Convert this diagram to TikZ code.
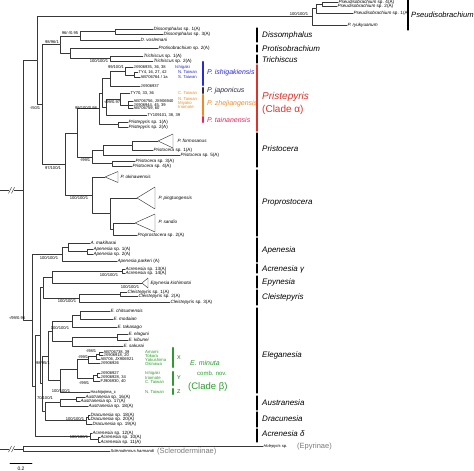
\documentclass[tikz,border=0pt]{standalone}
\usepackage{fontspec}
\setmainfont{Liberation Sans}
\usetikzlibrary{calc}
\definecolor{isblue}{HTML}{2A2AD2}
\definecolor{jpnavy}{HTML}{2A2A45}
\definecolor{zhorange}{HTML}{F08A24}
\definecolor{tapink}{HTML}{E3265A}
\definecolor{prred}{HTML}{D8352C}
\definecolor{clgreen}{HTML}{2F9A2F}
\definecolor{ogray}{HTML}{7A7A7A}

\begin{document}
\begin{tikzpicture}[x=1pt, y=-1pt, line width=0.45pt, line cap=round, line join=round,
  br/.style={draw=black!78, line width=0.45pt},
  tip/.style={anchor=west, inner sep=0.3pt, font=\fontsize{4.6}{5}\selectfont},
  acc/.style={tip, font=\fontsize{4.1}{5}\selectfont},
  supp/.style={inner sep=0pt, font=\fontsize{4.1}{5}\selectfont},
  genus/.style={anchor=west, inner sep=0pt, font=\fontsize{8}{9.6}\selectfont\itshape},
  gbar/.style={line width=1.3pt},
  sbar/.style={line width=2.6pt},
  place/.style={anchor=west, inner sep=0pt, font=\fontsize{4.3}{5}\selectfont}]

  \useasboundingbox (0,0) rectangle (474,471);

  %% ════ internal nodes ════
  \coordinate (nR)   at (23,190.3);
  \coordinate (nA)   at (37,60.5);
  \coordinate (nP)   at (312,16.7);
  \coordinate (nP1)  at (316,8.5);
  \coordinate (nP2)  at (322,3.9);
  \coordinate (nB)   at (42,104.3);
  \coordinate (nC)   at (60,44.5);
  \coordinate (nE)   at (80,35.8);
  \coordinate (nE1)  at (115,31.5);
  \coordinate (nF)   at (70,53.3);
  \coordinate (nG)   at (110,58.5);
  \coordinate (nD)   at (65,164);
  \coordinate (nH)   at (77,132.8);
  \coordinate (nI)   at (99,108.7);
  \coordinate (nI1)  at (102,92.9);
  \coordinate (nJ)   at (110,78.7);
  \coordinate (nJi)  at (125,70.9);
  \coordinate (nJi2) at (134,74.8);
  \coordinate (nZ)   at (106,107);
  \coordinate (nZz)  at (120,99);
  \coordinate (nZz2) at (128,105);
  \coordinate (nIsp) at (118,124.5);
  \coordinate (nK)   at (92,156.9);
  \coordinate (nK1)  at (103,150.3);
  \coordinate (nK2)  at (132,145.5);
  \coordinate (nK3)  at (112,163.5);
  \coordinate (nPP)  at (92,195.3);
  \coordinate (nPP1) at (110,213.5);
  \coordinate (nPP2) at (113,229);
  \coordinate (nL0)  at (32,320);
  \coordinate (nL1)  at (35,385.9);
  \coordinate (nL2)  at (40,335.6);
  \coordinate (nL3)  at (42,383.7);
  \coordinate (nL4)  at (45,411.5);
  \coordinate (nAp)  at (62,254.1);
  \coordinate (nAp1) at (68,247.3);
  \coordinate (nAp2) at (87,251.5);
  \coordinate (nAEC) at (43,287.5);
  \coordinate (nAE)  at (52,277);
  \coordinate (nAG)  at (122,271);
  \coordinate (nCl)  at (79,298);
  \coordinate (nCl1) at (120,294);
  \coordinate (nEl)  at (48,355.8);
  \coordinate (nEl5) at (52,331.3);
  \coordinate (nEl2) at (72,321);
  \coordinate (nEl1) at (80,315);
  \coordinate (nEl4) at (72,341.5);
  \coordinate (nEl3) at (117,337);
  \coordinate (nMi)  at (60,380.4);
  \coordinate (nXY)  at (77,368.9);
  \coordinate (nXc)  at (88,359.7);
  \coordinate (nXb)  at (96,356.4);
  \coordinate (nXa)  at (99,353.8);
  \coordinate (nY)   at (93,378);
  \coordinate (nYa)  at (97,375);
  \coordinate (nAu)  at (60,402.5);
  \coordinate (nAu1) at (76,399);
  \coordinate (nDr)  at (86,420.5);
  \coordinate (nDr1) at (88,417);
  \coordinate (nAd)  at (90,436.3);
  \coordinate (nAd1) at (98,439.5);
  \coordinate (nOg)  at (23,449);
  \coordinate (rIn)  at (0,190.3);
  \coordinate (rOut) at (0,449);

  %% ════ collapsed clades (triangles) ════
  \coordinate (cForm) at (158,141);
  \coordinate (cOki)  at (105,177);
  \coordinate (cPing) at (137,198);
  \coordinate (cSand) at (135,223);
  \coordinate (cEpy)  at (142,283);
  \draw[br] (cForm) -- (173,134) -- (173,148) -- cycle;
  \draw[br] (cOki)  -- (118,171.5) -- (118,182.5) -- cycle;
  \draw[br] (cPing) -- (155,187) -- (155,209) -- cycle;
  \draw[br] (cSand) -- (155,214) -- (155,232) -- cycle;
  \draw[br] (cEpy)  -- (148,278) -- (148,288) -- cycle;

  %% ════ tips ════
  \node[tip] (tPs4) at (338,1.9) {\textit{Pseudisobrachium} sp. 4(A)};
  \node[tip] (tPs2) at (337,6) {\textit{Pseudisobrachium} sp. 2(A)};
  \node[tip] (tPs1) at (353,13) {\textit{Pseudisobrachium} sp. 1(A)};
  \node[tip] (tPry) at (347,25) {\textit{P. ryukyuanum}};
  \node[tip] (tDi1) at (153,29) {\textit{Dissomphalus} sp. 1(A)};
  \node[tip] (tDi3) at (163,34) {\textit{Dissomphalus} sp. 3(A)};
  \node[tip] (tDvo) at (140,40) {\textit{D. voslemani}};
  \node[tip] (tPr2) at (158,48) {\textit{Protisobrachium} sp. 2(A)};
  \node[tip] (tTr1) at (143,56) {\textit{Trichiscus} sp. 1(A)};
  \node[tip] (tTr2) at (153,61) {\textit{Trichiscus} sp. 2(A)};
  \node[acc] (tIs1) at (133,67) {JX906935, 36, 38};
  \node[acc] (tIs2) at (138,72.5) {TY4, 16, 27, 42};
  \node[acc] (tIs3) at (140,77) {AB706764 / 1a};
  \node[acc] (tJap) at (140,86.5) {JX906937};
  \node[acc] (tZh1) at (130,93) {TY70, 33, 36};
  \node[acc] (tZh2) at (133,101.5) {AB706756, JX906940};
  \node[acc] (tZh3) at (133,105) {JX906944, 45, 39};
  \node[acc] (tZh4) at (133,108.5) {AB706759, 60};
  \node[acc] (tTai) at (147,115) {TY109101, 38, 39};
  \node[tip] (tPy1) at (128,122) {\textit{Pristepyris} sp. 1(A)};
  \node[tip] (tPy2) at (128,127) {\textit{Pristepyris} sp. 2(A)};
  \node[tip] at (177,141) {\textit{P. formosanus}};
  \node[tip] (tPc1) at (153,150) {\textit{Pristocera} sp. 1(A)};
  \node[tip] (tPc5) at (180,155) {\textit{Pristocera} sp. 5(A)};
  \node[tip] (tPc3) at (135,161) {\textit{Pristocera} sp. 3(A)};
  \node[tip] (tPc4) at (132,166) {\textit{Pristocera} sp. 4(A)};
  \node[tip] at (120,177) {\textit{P. okinawensis}};
  \node[tip] at (158,198) {\textit{P. pingtungensis}};
  \node[tip] at (158,222) {\textit{P. sandio}};
  \node[tip] (tPp2) at (137,235) {\textit{Proprostocera} sp. 2(A)};
  \node[tip] (tAmk) at (90,243) {\textit{A. makiharai}};
  \node[tip] (tAp1) at (93,249) {\textit{Apenesia} sp. 1(A)};
  \node[tip] (tAp2) at (93,254) {\textit{Apenesia} sp. 2(A)};
  \node[tip] (tApk) at (117,261) {\textit{Apenesia parkeri} (A)};
  \node[tip] (tAc13) at (125,269) {\textit{Acrenesia} sp. 13(A)};
  \node[tip] (tAc14) at (125,273) {\textit{Acrenesia} sp. 14(A)};
  \node[tip] at (150,283) {\textit{Epynesia kishimotoi}};
  \node[tip] (tCl1) at (127,292) {\textit{Cleistepyris} sp. 1(A)};
  \node[tip] (tCl2) at (138,296) {\textit{Cleistepyris} sp. 2(A)};
  \node[tip] (tCl3) at (170,302) {\textit{Cleistepyris} sp. 3(A)};
  \node[tip] (tEch) at (110,311) {\textit{E. chitsumensis}};
  \node[tip] (tEmo) at (113,319) {\textit{E. modaian}};
  \node[tip] (tEta) at (117,327) {\textit{E. takasago}};
  \node[tip] (tEel) at (128,334) {\textit{E. elaguni}};
  \node[tip] (tEki) at (128,340) {\textit{E. kibunei}};
  \node[tip] (tEsa) at (123,346) {\textit{E. sakurai}};
  \node[acc] (tX1) at (103,352) {AB706738, 39};
  \node[acc] (tX2) at (103,355.5) {JX906918, 20};
  \node[acc] (tX3) at (100,359) {AB706, JX906921};
  \node[acc] (tX4) at (100,363) {JX906926};
  \node[acc] (tY1) at (100,373) {JX906927};
  \node[acc] (tY2) at (100,377) {JX906928, 34};
  \node[acc] (tY3) at (100,381) {FJ906930, 40};
  \node[acc] (tHa) at (90,392) {Hachijojima\_c};
  \node[tip] (tAu16) at (85,397) {\textit{Austranesia} sp. 16(A)};
  \node[tip] (tAu17) at (80,401) {\textit{Austranesia} sp. 17(A)};
  \node[tip] (tAu18) at (88,406) {\textit{Austranesia} sp. 18(A)};
  \node[tip] (tDr18) at (90,415) {\textit{Dracunesia} sp. 18(A)};
  \node[tip] (tDr20) at (90,419) {\textit{Dracunesia} sp. 20(A)};
  \node[tip] (tDr19) at (92,424) {\textit{Dracunesia} sp. 19(A)};
  \node[tip] (tAc12) at (92,433) {\textit{Acrenesia} sp. 12(A)};
  \node[tip] (tAc10) at (100,437) {\textit{Acrenesia} sp. 10(A)};
  \node[tip] (tAc11) at (100,442) {\textit{Acrenesia} sp. 11(A)};
  \node[acc] (tEpr) at (263,446.5) {\textit{Holepyris} sp.};
  \node[acc] (tScl) at (110,451.5) {\textit{Sclerodermus harmandi}};

  %% ════ branches ════
  \foreach \p/\c in {nR/nA, nR/nL0, nA/nP, nA/nB, nP/nP1, nP/tPry, nP1/nP2, nP1/tPs1,
      nP2/tPs4, nP2/tPs2, nB/nC, nB/nD, nC/nE, nC/nF, nE/nE1, nE/tDvo, nE1/tDi1, nE1/tDi3,
      nF/tPr2, nF/nG, nG/tTr1, nG/tTr2, nD/nH, nD/nPP, nH/nI, nH/nK, nI/nI1, nI/nIsp,
      nI1/nJ, nI1/nZ, nJ/nJi, nJ/tJap, nJi/tIs1, nJi/nJi2, nJi2/tIs2, nJi2/tIs3,
      nZ/nZz, nZ/tTai, nZz/tZh1, nZz/nZz2, nZz2/tZh2, nZz2/tZh3, nZz2/tZh4,
      nIsp/tPy1, nIsp/tPy2, nK/nK1, nK/nK3, nK1/nK2, nK1/tPc5, nK2/cForm, nK2/tPc1,
      nK3/tPc3, nK3/tPc4, nPP/cOki, nPP/nPP1, nPP1/cPing, nPP1/nPP2, nPP2/cSand, nPP2/tPp2,
      nL0/nAp, nL0/nL1, nAp/nAp1, nAp/tApk, nAp1/tAmk, nAp1/nAp2, nAp2/tAp1, nAp2/tAp2,
      nL1/nL2, nL1/nAd, nL2/nAEC, nL2/nL3, nAEC/nAE, nAEC/nCl, nAE/nAG, nAE/cEpy,
      nAG/tAc13, nAG/tAc14, nCl/nCl1, nCl/tCl3, nCl1/tCl1, nCl1/tCl2,
      nL3/nEl, nL3/nL4, nEl/nEl5, nEl/nMi, nEl5/nEl2, nEl5/nEl4, nEl2/nEl1, nEl2/tEta,
      nEl1/tEch, nEl1/tEmo, nEl4/nEl3, nEl4/tEsa, nEl3/tEel, nEl3/tEki,
      nMi/nXY, nMi/tHa, nXY/nXc, nXY/nY, nXc/nXb, nXc/tX4, nXb/nXa, nXb/tX3, nXa/tX1, nXa/tX2,
      nY/nYa, nY/tY3, nYa/tY1, nYa/tY2, nL4/nAu, nL4/nDr, nAu/nAu1, nAu/tAu18,
      nAu1/tAu16, nAu1/tAu17, nDr/nDr1, nDr/tDr19, nDr1/tDr18, nDr1/tDr20,
      nAd/tAc12, nAd/nAd1, nAd1/tAc10, nAd1/tAc11, nOg/tEpr, nOg/tScl}
    \draw[br] (\p) |- (\c);
  \draw[br] (rIn) -- (nR);
  \draw[br] (rOut) -- (nOg);

  % root breaks
  \foreach \yy in {190.3,449} {
    \fill[white] (9,\yy-3) rectangle (14,\yy+3);
    \draw[br] (8.5,\yy+3) .. controls (11,\yy+1) and (9,\yy-1) .. (11.5,\yy-3);
    \draw[br] (11.5,\yy+3) .. controls (14,\yy+1) and (12,\yy-1) .. (14.5,\yy-3);
  }

  %% ════ support values ════
  \node[supp] at (299,14)    {100/100/1};
  \node[supp] at (70,33)     {96/-/0.95};
  \node[supp] at (52,42)     {98/96/1};
  \node[supp] at (99,61)     {100/100/1};
  \node[supp] at (35,108)    {-/50/1};
  \node[supp] at (116,67.5)  {99/100/1};
  \node[supp] at (112,102.5) {-/99/0.97};
  \node[supp] at (86,108)    {99/100/0.98};
  \node[supp] at (85,160)    {-/99/1};
  \node[supp] at (53,168)    {97/100/1};
  \node[supp] at (79,198)    {100/100/1};
  \node[supp] at (17,318)    {-/99/0.96};
  \node[supp] at (49,258)    {100/100/1};
  \node[supp] at (109,275)   {100/100/1};
  \node[supp] at (130,287)   {100/100/1};
  \node[supp] at (67,301)    {100/100/1};
  \node[supp] at (60,328)    {100/100/1};
  \node[supp] at (91,351)    {-/98/1};
  \node[supp] at (83,357)    {-/99/1};
  \node[supp] at (84,383)    {-/99/1};
  \node[supp] at (61,391)    {100/100/1};
  \node[supp] at (43,363)    {98/95/1};
  \node[supp] at (45,398)    {70/100/1};
  \node[supp] at (75,419)    {100/100/1};
  \node[supp] at (79,437)    {100/100/1};

  %% ════ Pristepyris species bars ════
  \draw[sbar, isblue]   (203,62) -- (203,85);
  \draw[sbar, jpnavy]   (203,88) -- (203,93);
  \draw[sbar, zhorange] (203,95) -- (203,115);
  \draw[sbar, tapink]   (203,117) -- (203,122);
  \node[place, isblue] at (175,67)  {Ishigaki};
  \node[place, isblue] at (178,72)  {N. Taiwan};
  \node[place, isblue] at (178,77)  {S. Taiwan};
  \node[place, zhorange] at (178,93)  {C. Taiwan};
  \node[place, zhorange] at (178,99)  {N. Taiwan};
  \node[place, zhorange] at (178,103) {Miyako};
  \node[place, zhorange] at (178,107) {Iriomote};
  \node[genus, isblue, font=\fontsize{7}{8}\selectfont\itshape]   at (207,73)  {P. ishigakiensis};
  \node[genus, jpnavy, font=\fontsize{7}{8}\selectfont\itshape]   at (207,90.5) {P. japonicus};
  \node[genus, zhorange, font=\fontsize{7}{8}\selectfont\itshape] at (207,104) {P. zhejiangensis};
  \node[genus, tapink, font=\fontsize{7}{8}\selectfont\itshape]   at (207,120) {P. tainanensis};

  %% ════ E. minuta populations ════
  \draw[sbar, clgreen] (173,348) -- (173,367);
  \draw[sbar, clgreen] (173,372) -- (173,385);
  \draw[sbar, clgreen] (173,389) -- (173,394);
  \node[place, clgreen] at (145,352) {Amami};
  \node[place, clgreen] at (145,356) {Tokara};
  \node[place, clgreen] at (145,360) {Yakushima};
  \node[place, clgreen] at (145,364) {Okinawa};
  \node[place, clgreen] at (145,373) {Ishigaki};
  \node[place, clgreen] at (145,377.5) {Iriomote};
  \node[place, clgreen] at (145,382) {C. Taiwan};
  \node[place, clgreen] at (145,392) {N. Taiwan};
  \node[place, clgreen!70!black, font=\fontsize{5.5}{6}\selectfont] at (177,358) {X};
  \node[place, clgreen!70!black, font=\fontsize{5.5}{6}\selectfont] at (177,378) {Y};
  \node[place, clgreen!70!black, font=\fontsize{5.5}{6}\selectfont] at (177,392) {Z};
  \node[genus, clgreen, font=\fontsize{7}{8}\selectfont\itshape] at (190,363) {E. minuta};
  \node[genus, clgreen, font=\fontsize{6}{7}\selectfont] at (197,373) {comb. nov.};
  \node[genus, clgreen, font=\fontsize{9.5}{11}\selectfont] at (188,387) {(Clade β)};

  %% ════ genus bars & labels ════
  \draw[gbar] (408,0) -- (408,30);
  \node[genus, font=\fontsize{7.6}{9}\selectfont\itshape] at (411,15) {Pseudisobrachium};
  \foreach \ya/\yb/\yl/\gname in {28/42/35/Dissomphalus, 45/52/48.5/Protisobrachium,
      55/63/60/Trichiscus, 133/167/149/Pristocera, 170/236/203/Proprostocera,
      238/262/250/Apenesia, 264/273/269/Acrenesia γ, 276/288/282/Epynesia,
      290/305/297/Cleistepyris, 308/393/355/Eleganesia, 396/410/403/Austranesia,
      412/427/419/Dracunesia, 429/442/434/Acrenesia δ}
  {
    \draw[gbar] (257,\ya) -- (257,\yb);
    \node[genus] at (262,\yl) {\gname};
  }
  \draw[gbar, prred, line width=1.8pt] (257,65) -- (257,131);
  \node[genus, prred, font=\fontsize{10}{12}\selectfont\itshape] at (262,97) {Pristepyris};
  \node[genus, prred, font=\fontsize{10}{12}\selectfont] at (262,110) {(Clade α)};

  %% ════ outgroup subfamilies ════
  \node[genus, ogray, font=\fontsize{7.5}{9}\selectfont] at (297,446.5) {(Epyrinae)};
  \node[genus, ogray, font=\fontsize{7.5}{9}\selectfont] at (157,451.5) {(Sclerodermiinae)};

  %% ════ scale bar ════
  \draw[line width=0.8pt] (10,463) -- (32,463);
  \node[supp, font=\fontsize{5}{6}\selectfont] at (21,468.5) {0.2};
\end{tikzpicture}
\end{document}
